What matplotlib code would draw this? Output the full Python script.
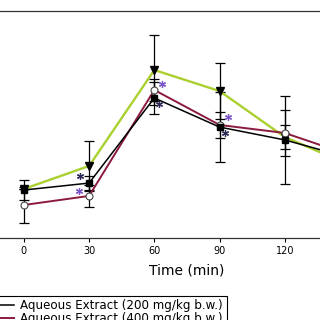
import matplotlib
matplotlib.use("Agg")
import matplotlib.pyplot as plt
import numpy as np

time_min = [0, 30, 60, 90, 120, 150]
xticks = [0, 30, 60, 90, 120]

green_vals = [82.4, 97.6, 161.0, 147.1, 116.7, 98.2]
green_err = [0, 16.5, 23.1, 18.5, 7.9, 0]

black_vals = [81.7, 86.3, 142.5, 123.3, 114.8, 102.9]
black_err = [6.6, 4.6, 10.6, 23.1, 29.1, 0]

red_vals = [71.8, 77.8, 147.8, 124.7, 119.4, 104.8]
red_err = [11.9, 7.3, 7.3, 8.6, 15.2, 0]

labels = ["Aqueous Extract (200 mg/kg b.w.)", "Aqueous Extract (400 mg/kg b.w.)"]

star_purple_x = [25.3, 63.4, 94.1]
star_purple_y = [81.1, 151.8, 130.0]
star_navy_x = [25.7, 62.0, 92.7]
star_navy_y = [91.0, 138.5, 119.4]

fig = plt.figure(figsize=(3.2, 3.2), dpi=100)
ax = fig.add_axes([-0.0613, 0.25625, 1.291, 0.7094])

green_c = "#aad030"
red_c = "#8c1a3c"

ek = dict(fmt="none", ecolor="black", elinewidth=0.9, capsize=3.6, capthick=0.9, zorder=2)
ax.errorbar(time_min, green_vals, yerr=green_err, **ek)
ax.errorbar(time_min, black_vals, yerr=black_err, **ek)
ax.errorbar(time_min, red_vals, yerr=red_err, **ek)

ax.plot(time_min, green_vals, color=green_c, lw=1.7, marker="v", ms=6,
        mfc="black", mec="black", zorder=3)
lr, = ax.plot(time_min, red_vals, color=red_c, lw=1.4, marker="o", ms=5,
              mfc="white", mec="#444444", mew=0.8, zorder=4)
lb, = ax.plot(time_min, black_vals, color="black", lw=1.1, marker="s", ms=4.5,
              mfc="black", mec="black", zorder=5)

ax.plot(star_purple_x, star_purple_y, ls="none", marker=(6, 2, 0), ms=5,
        mew=0.9, color="#7a55c8", zorder=6)
ax.plot(star_navy_x, star_navy_y, ls="none", marker=(6, 2, 0), ms=5,
        mew=0.9, color="#2b2b55", zorder=6)

ax.set_xlim(-20, 170)
ax.set_ylim(50, 200)
ax.set_xticks(xticks)
ax.set_xticklabels([str(t) for t in xticks])
ax.set_yticks([])
ax.tick_params(axis="x", direction="out", length=3, width=0.8, labelsize=7, pad=3)
for s in ax.spines.values():
    s.set_linewidth(0.9)
    s.set_color("#333333")
ax.set_xlabel("Time (min)", fontsize=10, labelpad=5)

leg = fig.legend([lb, lr], labels, loc="upper right",
                 bbox_to_anchor=(0.708, 0.076), fontsize=8.6, frameon=True,
                 fancybox=False, edgecolor="black", framealpha=1,
                 labelspacing=0.0, handlelength=4, handletextpad=0.5,
                 borderpad=0.3, borderaxespad=0)
leg.get_frame().set_linewidth(0.8)

fig.savefig("out.png", dpi=100)
